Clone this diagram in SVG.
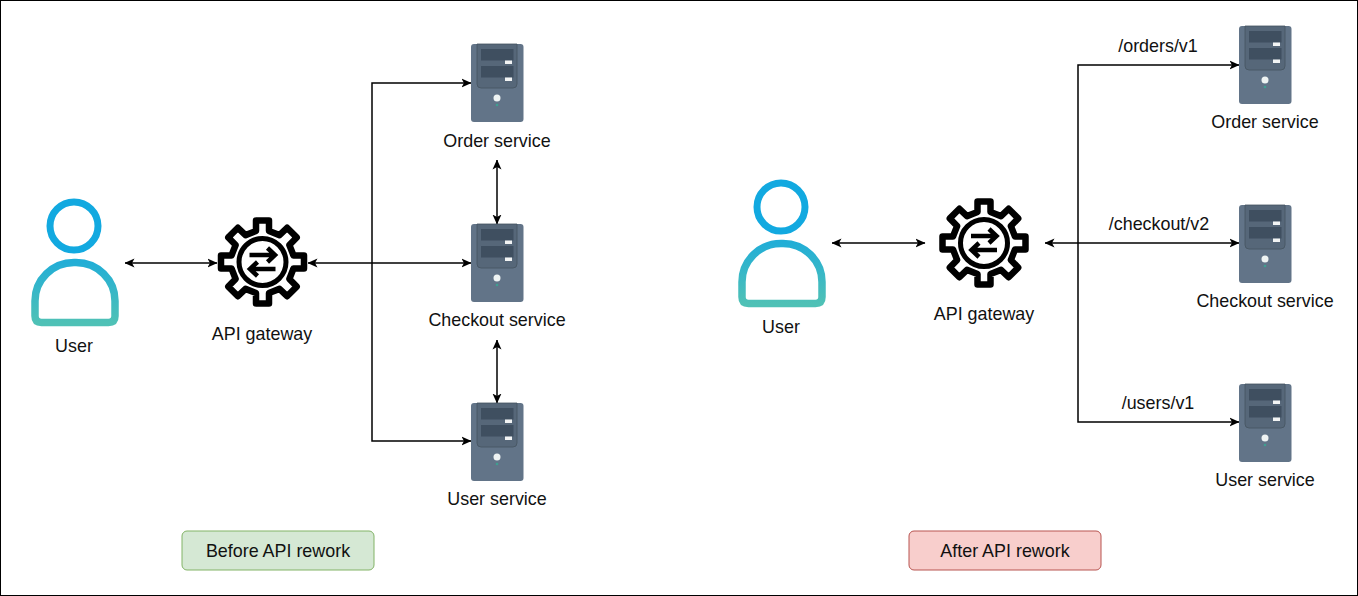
<svg xmlns="http://www.w3.org/2000/svg" xmlns:xlink="http://www.w3.org/1999/xlink" width="1358" height="596" viewBox="0 0 1358 596">
<style>
text{font-family:"Liberation Sans",Arial,sans-serif;font-size:17.9px;fill:#111;text-anchor:middle}
.c{fill:none;stroke:#000;stroke-width:1.5;marker-start:url(#a);marker-end:url(#a)}
.e{fill:none;stroke:#000;stroke-width:1.5;marker-end:url(#a)}
</style>
<defs>
<marker id="a" viewBox="0 0 10 10" refX="9.500" refY="5" markerWidth="10" markerHeight="10" markerUnits="userSpaceOnUse" orient="auto-start-reverse"><path d="M0 0.500L10 5L0 9.500L2.500 5Z" fill="#000"/></marker>
<linearGradient id="g" x1="0" y1="0" x2="0" y2="1"><stop offset="0" stop-color="#22aed6"/><stop offset="1" stop-color="#4fc1b6"/></linearGradient>
<g id="server">
<rect x="0" y="0" width="52.500" height="78" rx="3" fill="#627488"/>
<path d="M6 0H46V40Q46 44 42 44H10Q6 44 6 40Z" fill="#566779" stroke="#45545f" stroke-width="0.800"/>
<rect x="10" y="5" width="32.500" height="11.500" fill="#3f4f60"/>
<rect x="10" y="22" width="32.500" height="11.500" fill="#3f4f60"/>
<rect x="34" y="16.500" width="7" height="3.500" fill="#f2f4f4"/>
<rect x="34" y="33.500" width="7" height="3.500" fill="#f2f4f4"/>
<circle cx="26" cy="54" r="3.500" fill="#eef3f3"/>
<circle cx="26" cy="61" r="1.300" fill="#3f9f90"/>
</g>
<g id="gear">
<polygon points="-6.500,-31 -6.500,-41.500 6.500,-41.500 6.500,-31 16.970,-26.870 24.600,-34.200 34.200,-24.600 26.870,-16.970 31,-6.500 41.500,-6.500 41.500,6.500 31,6.500 26.870,16.970 34.200,24.600 24.600,34.200 16.970,26.870 6.500,31 6.500,41.500 -6.500,41.500 -6.500,31 -16.970,26.870 -24.600,34.200 -34.200,24.600 -26.870,16.970 -31,6.500 -41.500,6.500 -41.500,-6.500 -31,-6.500 -26.870,-16.970 -34.200,-24.600 -24.600,-34.200 -16.970,-26.870" fill="#fff" stroke="#000" stroke-width="6.500" stroke-linejoin="round"/>
<circle r="23.500" fill="#fff" stroke="#000" stroke-width="5"/>
<path d="M-13-7H12M5-14L12.500-7L5 0M13 7H-12M-5 0L-12.500 7L-5 14" fill="none" stroke="#000" stroke-width="4.500"/>
</g>
<g id="person">
<circle cx="74" cy="226" r="24" fill="#fff" stroke="#12a9e0" stroke-width="7"/>
<path d="M35 301A39 38.500 0 0 1 74 262.500H76A39 38.500 0 0 1 115 301V316Q115 322.500 108.500 322.500H41.500Q35 322.500 35 316Z" fill="#fff" stroke="url(#g)" stroke-width="7.500"/>
</g>
</defs>
<rect x="0.500" y="0.500" width="1357" height="595" fill="#fff" stroke="#000"/>
<g id="connectors">
<path class="c" d="M125 263H217"/>
<path class="c" d="M308 263H471"/>
<path class="e" d="M372 263V83H471"/>
<path class="e" d="M372 263V441H471"/>
<path class="c" d="M497 160V224"/>
<path class="c" d="M497 340V403"/>
<path class="c" d="M832 243H925"/>
<path class="c" d="M1045 243H1239"/>
<path class="e" d="M1078 243V65H1239"/>
<path class="e" d="M1078 243V422H1239"/>
</g>
<g id="user-before"><use xlink:href="#person" href="#person"/><text x="74" y="351.500">User</text></g>
<g id="gateway-before"><use href="#gear" xlink:href="#gear" x="262.500" y="262"/><text x="262" y="339.500">API gateway</text></g>
<g id="order-before"><use href="#server" xlink:href="#server" x="471" y="44"/><text x="497" y="147">Order service</text></g>
<g id="checkout-before"><use href="#server" xlink:href="#server" x="471" y="224"/><text x="497" y="326">Checkout service</text></g>
<g id="users-before"><use href="#server" xlink:href="#server" x="471" y="403"/><text x="497" y="505">User service</text></g>
<g id="label-before"><rect x="182" y="531" width="192" height="39" rx="5" fill="#d5e8d4" stroke="#82b366"/><text x="278" y="556.500">Before API rework</text></g>
<g id="user-after"><use href="#person" xlink:href="#person" x="707" y="-19"/><text x="781" y="332.500">User</text></g>
<g id="gateway-after"><use href="#gear" xlink:href="#gear" x="984" y="243"/><text x="984" y="320">API gateway</text></g>
<g id="order-after"><use href="#server" xlink:href="#server" x="1239" y="26"/><text x="1265" y="127.500">Order service</text></g>
<g id="checkout-after"><use href="#server" xlink:href="#server" x="1239" y="205"/><text x="1265" y="307">Checkout service</text></g>
<g id="users-after"><use href="#server" xlink:href="#server" x="1239" y="384"/><text x="1265" y="486">User service</text></g>
<g id="label-after"><rect x="909" y="531" width="192" height="39" rx="5" fill="#f8cecc" stroke="#b85450"/><text x="1005" y="556.500">After API rework</text></g>
<g id="edge-labels">
<text x="1158" y="52">/orders/v1</text>
<text x="1159" y="230">/checkout/v2</text>
<text x="1158" y="409">/users/v1</text>
</g>
</svg>
